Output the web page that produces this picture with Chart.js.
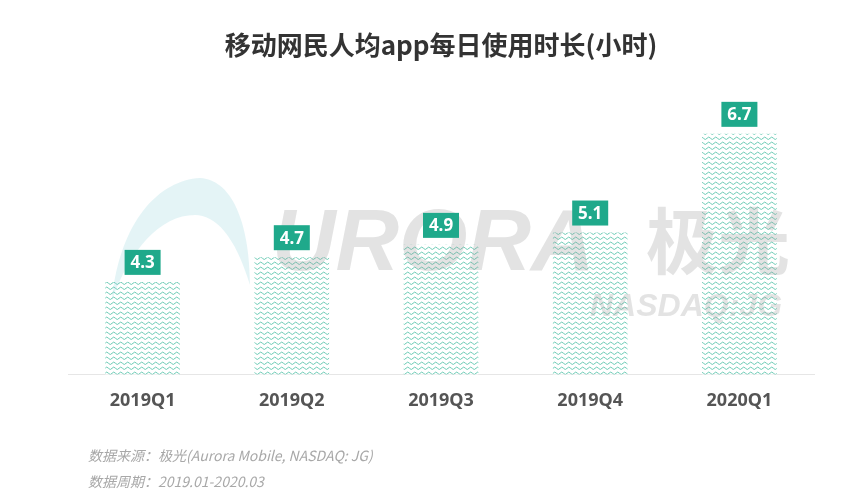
<!DOCTYPE html>
<html><head><meta charset="utf-8">
<script src="https://cdn.jsdelivr.net/npm/chart.js@4"></script>
<style>
html,body{margin:0;padding:0;background:#fff;}
#wrap{position:relative;width:859px;height:502px;}
canvas{position:absolute;left:0;top:0;}
.note{position:absolute;left:88px;font-family:"Noto Sans CJK SC","Noto Sans",sans-serif;font-style:italic;font-size:14px;color:#a8a8a8;}
</style></head>
<body>
<div id="wrap">
<canvas id="c" width="859" height="502"></canvas>
<div class="note" style="top:445px">数据来源：极光(Aurora Mobile, NASDAQ: JG)</div>
<div class="note" style="top:471px">数据周期：2019.01-2020.03</div>
</div>
<script>
const titleText = '移动网民人均app每日使用时长(小时)';
const categories = ['2019Q1','2019Q2','2019Q3','2019Q4','2020Q1'];
const hours = [4.3, 4.7, 4.9, 5.1, 6.7];

function makePattern(){
  const p = document.createElement('canvas');
  p.width = 7; p.height = 5;
  const g = p.getContext('2d');
  g.fillStyle = '#ffffff'; g.fillRect(0,0,7,5);
  g.strokeStyle = '#6ccbb5'; g.lineWidth = 1.0;
  g.beginPath();
  g.moveTo(0,3.3); g.quadraticCurveTo(1.75,0.8,3.5,3.3); g.quadraticCurveTo(5.25,5.8,7,3.3);
  g.stroke();
  return g.createPattern(p,'repeat');
}
const ctx0 = document.getElementById('c').getContext('2d');
const pattern = makePattern();

const deco = {
  id:'deco',
  afterDatasetsDraw(chart){
    const c = chart.ctx; c.save();
    c.fillStyle = 'rgba(120,200,210,0.2)';
    c.beginPath();
    c.moveTo(112,300); c.bezierCurveTo(120,220,160,180,200,178);
    c.bezierCurveTo(235,180,250,230,250,285);
    c.bezierCurveTo(235,235,215,215,195,215);
    c.bezierCurveTo(160,215,130,250,112,300); c.fill();
    c.fillStyle = 'rgba(150,150,150,0.27)';
    c.textBaseline = 'alphabetic';
    c.font = 'italic bold 88px "Liberation Sans", sans-serif';
    c.fillText('URORA', 272, 270);
    c.font = 'bold 72px "Noto Sans CJK SC", sans-serif';
    c.fillText('极光', 646, 268);
    c.font = 'italic bold 32px "Liberation Sans", sans-serif';
    c.fillText('NASDAQ:JG', 590, 316);

    const meta = chart.getDatasetMeta(0);
    c.font = 'bold 17px "Noto Sans", sans-serif';
    c.textAlign = 'center'; c.textBaseline = 'middle';
    meta.data.forEach((bar,i)=>{
      const w = 36, h = 25;
      const x = bar.x - w/2, y = bar.y - 7 - h;
      c.fillStyle = '#1fa98b';
      c.fillRect(x,y,w,h);
      c.fillStyle = '#ffffff';
      c.fillText(hours[i].toFixed(1), bar.x, y + h/2 + 1);
    });
    c.fillStyle = '#333333';
    c.font = 'bold 26px "Noto Sans CJK SC", sans-serif';
    c.fillText(titleText, 441, 45);
    c.restore();
  }
};

new Chart(ctx0, {
  type:'bar',
  data:{ labels:categories, datasets:[{ data:hours, backgroundColor:pattern, borderWidth:0, barPercentage:0.5, categoryPercentage:1.0 }]},
  options:{
    responsive:false, animation:false,
    layout:{ padding:{ left:68, right:45, top:103, bottom:82 } },
    plugins:{ legend:{display:false}, tooltip:{enabled:false}, title:{display:false} },
    scales:{
      y:{ display:false, min:2.8, max:7.2 },
      x:{ grid:{display:false}, border:{color:'#e6e6e6', width:1},
          ticks:{ color:'#555555', font:{ size:18, weight:'bold', family:'"Noto Sans", sans-serif' }, padding:8 } }
    }
  },
  plugins:[deco]
});
</script>
</body></html>
